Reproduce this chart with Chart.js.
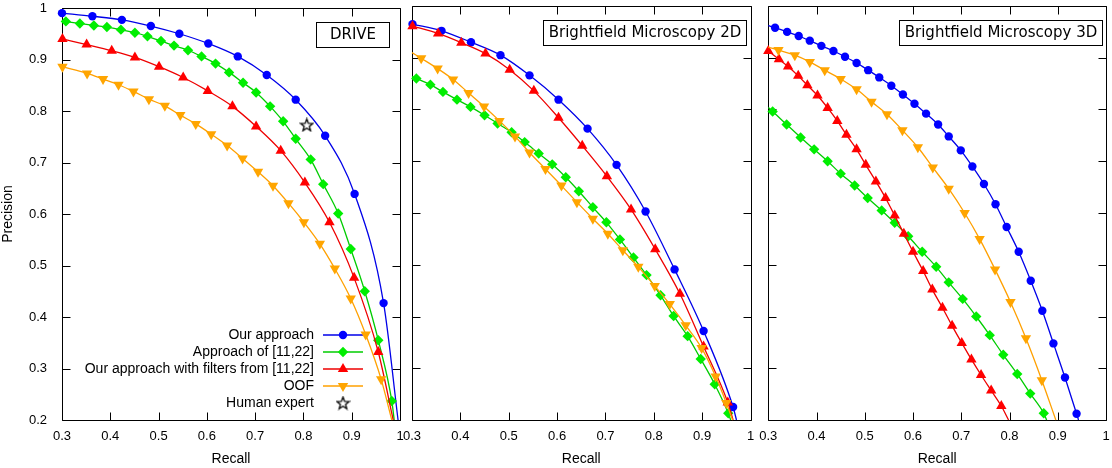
<!DOCTYPE html>
<html><head><meta charset="utf-8">
<script src="https://cdn.jsdelivr.net/npm/chart.js@4/dist/chart.umd.min.js"></script>
<style>
html,body{margin:0;padding:0;background:#fff;}
#wrap{position:relative;width:1112px;height:468px;overflow:hidden;background:#fff;}
canvas{position:absolute;top:0;}
</style></head><body>
<div id="wrap">
<canvas id="c1" width="410" height="468" style="left:0px;width:410px;height:468px"></canvas>
<canvas id="c2" width="355" height="468" style="left:402px;width:355px;height:468px"></canvas>
<canvas id="c3" width="355" height="468" style="left:757px;width:355px;height:468px"></canvas>
</div>
<script>
// ---------- labels / ticks ----------
const xTicks = [0.3, 0.4, 0.5, 0.6, 0.7, 0.8, 0.9, 1.0];
const yTicks = [0.2, 0.3, 0.4, 0.5, 0.6, 0.7, 0.8, 0.9, 1.0];
const xTitle = 'Recall';
const yTitle = 'Precision';
const seriesNames = ['Our approach', 'Approach of [11,22]', 'Our approach with filters from [11,22]', 'OOF'];
const humanLabel = 'Human expert';
const panelTitles = ['DRIVE', 'Brightfield Microscopy 2D', 'Brightfield Microscopy 3D'];

// ---------- DRIVE ----------
const driveOursR = [0.300,0.363,0.424,0.484,0.543,0.603,0.664,0.724,0.784,0.845,0.906,0.966];
const driveOursP = [0.990,0.984,0.977,0.965,0.950,0.931,0.906,0.870,0.822,0.752,0.639,0.427];
const driveOursEnd = [0.996, 0.2];
const drivePrevR = [0.308,0.337,0.366,0.393,0.422,0.451,0.477,0.505,0.532,0.561,0.589,0.618,0.646,0.675,0.702,0.731,0.758,0.784,0.815,0.841,0.872,0.898,0.927,0.955,0.983];
const drivePrevP = [0.974,0.970,0.966,0.963,0.958,0.952,0.945,0.936,0.927,0.918,0.906,0.892,0.875,0.855,0.836,0.809,0.780,0.746,0.706,0.658,0.601,0.532,0.450,0.355,0.237];
const drivePrevStart = [0.300, 0.976];
const drivePrevEnd = [0.988, 0.2];
const driveFiltR = [0.301,0.351,0.403,0.451,0.501,0.551,0.602,0.653,0.702,0.753,0.803,0.854,0.905,0.955];
const driveFiltP = [0.940,0.929,0.917,0.904,0.886,0.865,0.839,0.809,0.770,0.723,0.661,0.584,0.476,0.332];
const driveFiltEnd = [0.986, 0.2];
const driveOofR = [0.301,0.352,0.385,0.417,0.448,0.480,0.513,0.545,0.577,0.609,0.642,0.674,0.706,0.737,0.769,0.801,0.834,0.865,0.898,0.929,0.961];
const driveOofP = [0.886,0.873,0.862,0.851,0.838,0.823,0.810,0.792,0.775,0.755,0.733,0.708,0.682,0.655,0.621,0.584,0.542,0.494,0.436,0.366,0.279];
const driveOofEnd = [0.983, 0.2];
const driveHuman = [0.807, 0.773];

// ---------- Brightfield Microscopy 2D ----------
const bf2OursR = [0.301,0.361,0.422,0.483,0.543,0.603,0.663,0.723,0.783,0.843,0.903,0.964];
const bf2OursP = [0.965,0.952,0.930,0.905,0.866,0.819,0.763,0.693,0.603,0.491,0.372,0.225];
const bf2OursEnd = [0.971, 0.2];
const bf2PrevR = [0.309,0.338,0.364,0.393,0.421,0.450,0.477,0.506,0.533,0.562,0.590,0.618,0.645,0.674,0.702,0.730,0.758,0.785,0.814,0.841,0.870,0.897,0.926,0.954];
const bf2PrevP = [0.860,0.848,0.834,0.819,0.805,0.789,0.773,0.756,0.737,0.715,0.694,0.669,0.642,0.611,0.582,0.549,0.514,0.480,0.441,0.401,0.362,0.318,0.269,0.213];
const bf2PrevStart = [0.300, 0.864];
const bf2PrevEnd = [0.959, 0.2];
const bf2FiltR = [0.301,0.354,0.402,0.452,0.502,0.552,0.603,0.652,0.703,0.753,0.803,0.854,0.903,0.953];
const bf2FiltP = [0.961,0.947,0.929,0.908,0.877,0.836,0.784,0.730,0.671,0.607,0.530,0.444,0.342,0.234];
const bf2FiltEnd = [0.964, 0.2];
const bf2OofR = [0.319,0.353,0.385,0.417,0.449,0.481,0.513,0.543,0.576,0.609,0.641,0.674,0.705,0.736,0.768,0.802,0.833,0.866,0.899,0.928,0.950];
const bf2OofP = [0.899,0.879,0.858,0.832,0.806,0.778,0.748,0.717,0.685,0.653,0.621,0.589,0.560,0.528,0.496,0.459,0.424,0.383,0.339,0.284,0.233];
const bf2OofStart = [0.300, 0.910];
const bf2OofEnd = [0.963, 0.2];

// ---------- Brightfield Microscopy 3D ----------
const bf3OursR = [0.314,0.339,0.363,0.386,0.410,0.435,0.459,0.483,0.507,0.530,0.555,0.579,0.603,0.627,0.652,0.674,0.699,0.723,0.747,0.771,0.794,0.819,0.844,0.868,0.891,0.915,0.939];
const bf3OursP = [0.958,0.950,0.942,0.933,0.923,0.913,0.902,0.890,0.876,0.862,0.846,0.829,0.811,0.792,0.771,0.748,0.721,0.690,0.656,0.617,0.573,0.525,0.469,0.411,0.348,0.282,0.212];
const bf3OursStart = [0.300, 0.962];
const bf3OursEnd = [0.943, 0.2];
const bf3PrevR = [0.309,0.338,0.367,0.395,0.423,0.450,0.479,0.506,0.535,0.562,0.590,0.619,0.648,0.674,0.703,0.731,0.759,0.787,0.816,0.843,0.871];
const bf3PrevP = [0.796,0.771,0.746,0.723,0.700,0.676,0.653,0.629,0.605,0.581,0.555,0.525,0.496,0.466,0.434,0.400,0.364,0.326,0.289,0.251,0.213];
const bf3PrevStart = [0.300, 0.804];
const bf3PrevEnd = [0.877, 0.2];
const bf3FiltR = [0.300,0.322,0.341,0.362,0.381,0.402,0.423,0.443,0.462,0.483,0.502,0.523,0.543,0.562,0.581,0.600,0.621,0.640,0.661,0.681,0.701,0.721,0.741,0.762,0.783];
const bf3FiltP = [0.913,0.897,0.883,0.865,0.847,0.827,0.803,0.778,0.751,0.723,0.693,0.661,0.629,0.595,0.560,0.525,0.488,0.452,0.417,0.382,0.349,0.317,0.287,0.257,0.227];
const bf3FiltEnd = [0.798, 0.2];
const bf3OofR = [0.321,0.355,0.386,0.417,0.450,0.483,0.514,0.546,0.578,0.610,0.641,0.674,0.707,0.738,0.770,0.802,0.834,0.867];
const bf3OofP = [0.915,0.905,0.892,0.876,0.859,0.839,0.815,0.791,0.760,0.727,0.688,0.647,0.600,0.550,0.491,0.428,0.358,0.277];
const bf3OofStart = [0.300, 0.920];
const bf3OofEnd = [0.896, 0.2];

// ---------- styles ----------
const STY = [
  {color:'#0000ff', line:'#0000e8', style:'circle',  radius:4.2, rot:0,   order:3},
  {color:'#00ee00', line:'#00cc00', style:'rectRot', radius:5.2, rot:0,   order:2},
  {color:'#ff0000', line:'#ee0000', style:'triangle',radius:6,   rot:0,   order:1},
  {color:'#ffa500', line:'#ffa000', style:'triangle',radius:6,   rot:180, order:0}
];
const FAM = "'Liberation Sans', Arial, sans-serif";
const TITLE_FONT = {family:FAM, size:14};

function makeStar(size){
  const c=document.createElement('canvas'); c.width=c.height=size;
  const g=c.getContext('2d'); const cx=size/2, cy=size/2+0.6;
  const R=size/2-1, r=R*0.42;
  g.beginPath();
  for(let i=0;i<10;i++){const a=-Math.PI/2+i*Math.PI/5; const rr=i%2?r:R; g.lineTo(cx+rr*Math.cos(a), cy+rr*Math.sin(a));}
  g.closePath(); g.fillStyle='#fff'; g.fill(); g.strokeStyle='#000'; g.lineWidth=1.3; g.stroke();
  return c;
}
const STAR = makeStar(15);

function makeSeries(k, rs, ps, start, end){
  const s = STY[k];
  const data=[], marks=[];
  if(start){data.push({x:start[0],y:start[1]}); marks.push(false);}
  rs.forEach((r,i)=>{data.push({x:r,y:ps[i]}); marks.push(true);});
  if(end){data.push({x:end[0],y:end[1]}); marks.push(false);}
  return {
    label: seriesNames[k], data, showLine:true,
    borderColor:s.line, backgroundColor:s.color, borderWidth:1.3,
    pointStyle:s.style, pointRotation:s.rot,
    pointRadius: c => marks[c.dataIndex] ? s.radius : 0,
    pointHoverRadius: c => marks[c.dataIndex] ? s.radius : 0,
    pointBackgroundColor:s.color, pointBorderWidth:0,
    cubicInterpolationMode:'monotone', order:s.order, clip:false,
    _sty:s
  };
}

function drawMarker(ctx, s, x, y){
  ctx.save(); ctx.translate(x,y); ctx.fillStyle=s.color; ctx.beginPath();
  const r=s.radius;
  if(s.style==='circle'){ctx.arc(0,0,r,0,Math.PI*2);}
  else if(s.style==='rectRot'){ctx.moveTo(0,-r);ctx.lineTo(r,0);ctx.lineTo(0,r);ctx.lineTo(-r,0);ctx.closePath();}
  else { if(s.rot) ctx.rotate(Math.PI); ctx.moveTo(0,-r); ctx.lineTo(r*0.866,r*0.5); ctx.lineTo(-r*0.866,r*0.5); ctx.closePath(); }
  ctx.fill(); ctx.restore();
}

function fmt(v){ return String(Math.round(v*10)/10); }

const framePlugin = {
  id:'frameTicks',
  beforeDatasetsDraw(chart){
    const {ctx, chartArea:a, scales:{x,y}} = chart;
    const o = chart.options.plugins.frameTicks;
    ctx.save();
    ctx.strokeStyle='#000'; ctx.lineWidth=1;
    const L=Math.round(a.left)+0.5, R=Math.round(a.right)+0.5, T=Math.round(a.top)+0.5, B=Math.round(a.bottom)+0.5;
    ctx.beginPath(); ctx.moveTo(L,T); ctx.lineTo(R,T); ctx.lineTo(R,B); ctx.lineTo(L,B); ctx.closePath(); ctx.stroke();
    const tl=8;
    ctx.beginPath();
    xTicks.forEach(v=>{const px=Math.round(x.getPixelForValue(v))+0.5; ctx.moveTo(px,B); ctx.lineTo(px,B-tl); ctx.moveTo(px,T); ctx.lineTo(px,T+tl);});
    yTicks.forEach(v=>{const py=Math.round(y.getPixelForValue(v))+0.5; ctx.moveTo(L,py); ctx.lineTo(L+tl,py); ctx.moveTo(R,py); ctx.lineTo(R-tl,py);});
    ctx.stroke();
    // tick labels
    ctx.fillStyle='#000'; ctx.font='13px '+FAM; ctx.textBaseline='middle';
    ctx.textAlign='center';
    xTicks.forEach(v=>{ ctx.fillText(fmt(v), x.getPixelForValue(v), a.bottom+16); });
    if(o.yLabels){
      ctx.textAlign='right';
      yTicks.forEach(v=>{ ctx.fillText(fmt(v), a.left-15, y.getPixelForValue(v)); });
    }
    // legend (panel 1 only)
    if(o.legend){
      const rows = chart.data.datasets.filter(d=>d._sty);
      const textRight=a.right-86, l0=a.right-77, l1=a.right-37, mx=a.right-57;
      let yy=a.bottom-85;
      ctx.font='14px '+FAM; ctx.textAlign='right'; ctx.textBaseline='middle';
      rows.forEach(d=>{
        ctx.fillStyle='#000'; ctx.fillText(d.label, textRight, yy);
        ctx.strokeStyle=d.borderColor; ctx.lineWidth=1.3; ctx.beginPath(); ctx.moveTo(l0,yy); ctx.lineTo(l1,yy); ctx.stroke();
        drawMarker(ctx, d._sty, mx, yy);
        yy+=17;
      });
      ctx.fillStyle='#000'; ctx.fillText(humanLabel, textRight, yy);
      ctx.drawImage(STAR, mx-STAR.width/2, yy-STAR.height/2);
    }
    ctx.restore();
  },
  afterDatasetsDraw(chart){
    const {ctx, chartArea:a} = chart;
    const o = chart.options.plugins.frameTicks;
    ctx.save();
    const bx=Math.round(a.right-o.boxRight-o.boxW)+0.5, by=Math.round(a.top+14)+0.5, bw=Math.round(o.boxW), bh=25;
    ctx.fillStyle='#fff'; ctx.fillRect(bx,by,bw,bh);
    ctx.strokeStyle='#000'; ctx.lineWidth=1; ctx.strokeRect(bx,by,bw,bh);
    ctx.fillStyle='#000'; ctx.font="15px 'DejaVu Sans', Verdana, sans-serif"; ctx.textAlign='center'; ctx.textBaseline='middle';
    ctx.fillText(o.title, bx+bw/2, by+bh/2+0.5);
    ctx.restore();
  }
};

function makeChart(id, datasets, cfg){
  const chart = new Chart(document.getElementById(id), {
    type:'scatter',
    data:{datasets},
    options:{
      responsive:false, animation:false, events:[],
      devicePixelRatio:1,
      layout:{padding:cfg.padding},
      plugins:{legend:{display:false}, tooltip:{enabled:false},
        frameTicks:{title:cfg.title, boxW:cfg.boxW, boxRight:cfg.boxRight, legend:!!cfg.legend, yLabels:cfg.showY}},
      scales:{
        x:{type:'linear', min:0.3, max:1.0,
          afterBuildTicks(s){ s.ticks = xTicks.map(v=>({value:v})); },
          afterFit(s){ s.height=48; s.paddingLeft=0; s.paddingRight=0; },
          grid:{display:false, drawTicks:false}, border:{display:false},
          ticks:{display:false},
          title:{display:true, text:xTitle, font:TITLE_FONT, color:'#000', padding:{top:0,bottom:0}}},
        y:{type:'linear', min:0.2, max:1.0, display: cfg.showY,
          afterBuildTicks(s){ s.ticks = yTicks.map(v=>({value:v})); },
          afterFit(s){ s.width = cfg.showY ? 62 : 0; s.paddingTop=0; s.paddingBottom=0; },
          grid:{display:false, drawTicks:false}, border:{display:false},
          ticks:{display:false},
          title:{display:true, text:yTitle, font:TITLE_FONT, color:'#000', padding:{top:0,bottom:0}}}
      }
    },
    plugins:[framePlugin]
  });
  // calibrate plot area to the wanted pixel box
  const w = cfg.want;
  for(let k=0;k<3;k++){
    const a = chart.chartArea, p = chart.options.layout.padding;
    const dl = w.left-a.left, dr = a.right-w.right, dt = w.top-a.top;
    if(Math.abs(dl)<0.3 && Math.abs(dr)<0.3 && Math.abs(dt)<0.3) break;
    p.left += dl; p.right += dr; p.top += dt;
    chart.update('none');
  }
  return chart;
}

const humanDs = {label:humanLabel, data:[{x:driveHuman[0], y:driveHuman[1]}], showLine:false,
  pointStyle:STAR, pointRadius:7, pointHoverRadius:7, order:-1, clip:false};

makeChart('c1', [
  makeSeries(0, driveOursR, driveOursP, null, driveOursEnd),
  makeSeries(1, drivePrevR, drivePrevP, drivePrevStart, drivePrevEnd),
  makeSeries(2, driveFiltR, driveFiltP, null, driveFiltEnd),
  makeSeries(3, driveOofR, driveOofP, null, driveOofEnd),
  humanDs
], {padding:{left:0,right:10,top:5,bottom:0}, want:{left:62,right:400,top:5}, showY:true, title:panelTitles[0], boxW:73, boxRight:11, legend:true});

makeChart('c2', [
  makeSeries(0, bf2OursR, bf2OursP, null, bf2OursEnd),
  makeSeries(1, bf2PrevR, bf2PrevP, bf2PrevStart, bf2PrevEnd),
  makeSeries(2, bf2FiltR, bf2FiltP, null, bf2FiltEnd),
  makeSeries(3, bf2OofR, bf2OofP, bf2OofStart, bf2OofEnd)
], {padding:{left:10,right:7,top:5,bottom:0}, want:{left:10,right:348.5,top:5}, showY:false, title:panelTitles[1], boxW:203, boxRight:5});

makeChart('c3', [
  makeSeries(0, bf3OursR, bf3OursP, bf3OursStart, bf3OursEnd),
  makeSeries(1, bf3PrevR, bf3PrevP, bf3PrevStart, bf3PrevEnd),
  makeSeries(2, bf3FiltR, bf3FiltP, null, bf3FiltEnd),
  makeSeries(3, bf3OofR, bf3OofP, bf3OofStart, bf3OofEnd)
], {padding:{left:11,right:6,top:5,bottom:0}, want:{left:11.3,right:349.7,top:5}, showY:false, title:panelTitles[2], boxW:203, boxRight:4});
</script>
</body></html>
